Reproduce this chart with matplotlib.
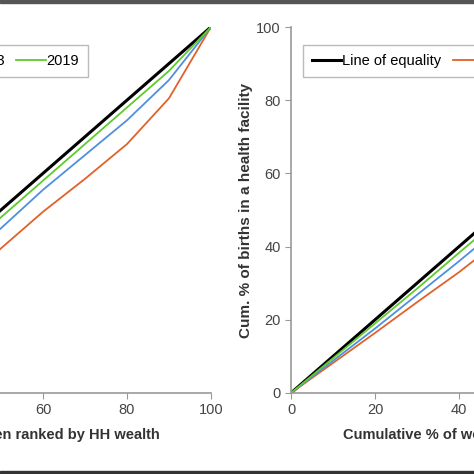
import matplotlib
import matplotlib.pyplot as plt

matplotlib.use('Agg')
plt.rcParams['font.family'] = ['Liberation Sans', 'DejaVu Sans']

x = [0, 10, 20, 30, 40, 50, 60, 70, 80, 90, 100]
years = ['2008', '2013', '2019']
colors = {'Line of equality': 'black', '2008': '#e0622a', '2013': '#4f8fe0', '2019': '#5dcc2a'}

# left panel (wealth)
left_curves = {
    '2008': [0, 6, 13, 20, 29, 39.5, 49.5, 58.5, 68, 80.5, 100],
    '2013': [0, 8, 16, 25, 35, 45, 55.5, 65, 74.5, 85.5, 100],
    '2019': [0, 9, 18, 28, 38, 48, 58, 68, 78, 88, 100],
}
# right panel
right_curves = {
    '2008': [0, 8.2, 16.4, 24.8, 33, 42, 51, 61, 72, 85, 100],
    '2013': [0, 8.8, 17.6, 26.8, 36, 45.5, 55, 65, 75.5, 87, 100],
    '2019': [0, 9.5, 19, 28.5, 38.3, 48, 58, 68, 78.5, 89, 100],
}

fig = plt.figure(figsize=(4.74, 4.74), dpi=100)
ax1 = fig.add_axes([-0.441, 0.171, 0.886, 0.772])
ax2 = fig.add_axes([0.614, 0.171, 0.886, 0.772])

for ax, curves, legx in [(ax1, left_curves, -0.19), (ax2, right_curves, 0.012)]:
    ax.plot(x, x, color='black', lw=2.2, label='Line of equality')
    for yr in years:
        ax.plot(x, curves[yr], color=colors[yr], lw=1.3, label=yr)
    ax.set_xlim(0, 100)
    ax.set_ylim(0, 100)
    ax.set_xticks(range(0, 101, 20))
    ax.set_yticks(range(0, 101, 20))
    for s in ['top', 'right']:
        ax.spines[s].set_visible(False)
    for s in ['left', 'bottom']:
        ax.spines[s].set_color('#999999')
        ax.spines[s].set_linewidth(1.2)
    ax.tick_params(colors='#999999', labelcolor='#444444', labelsize=10.5, length=4, direction='out')
    ax.set_xlabel('Cumulative % of women ranked by HH wealth', fontsize=10.5, fontweight='bold',
                  color='#333333', labelpad=8)
    ax.set_ylabel('Cum. % of births in a health facility', fontsize=11, fontweight='bold',
                  color='#333333', labelpad=2)
    leg = ax.legend(ncol=4, loc='upper left', bbox_to_anchor=(legx, 0.97), fontsize=10.5,
                    frameon=True, fancybox=False, edgecolor='#aaaaaa', handlelength=2.0,
                    handletextpad=0.05, columnspacing=0.8, borderpad=0.6)
    leg.get_frame().set_linewidth(1.0)

fig.patches.append(plt.Rectangle((0, 0.994), 1, 0.006, transform=fig.transFigure, color='#555555'))
fig.patches.append(plt.Rectangle((0, 0), 1, 0.006, transform=fig.transFigure, color='#333333'))

fig.savefig('out.png', dpi=100)
plt.close()
